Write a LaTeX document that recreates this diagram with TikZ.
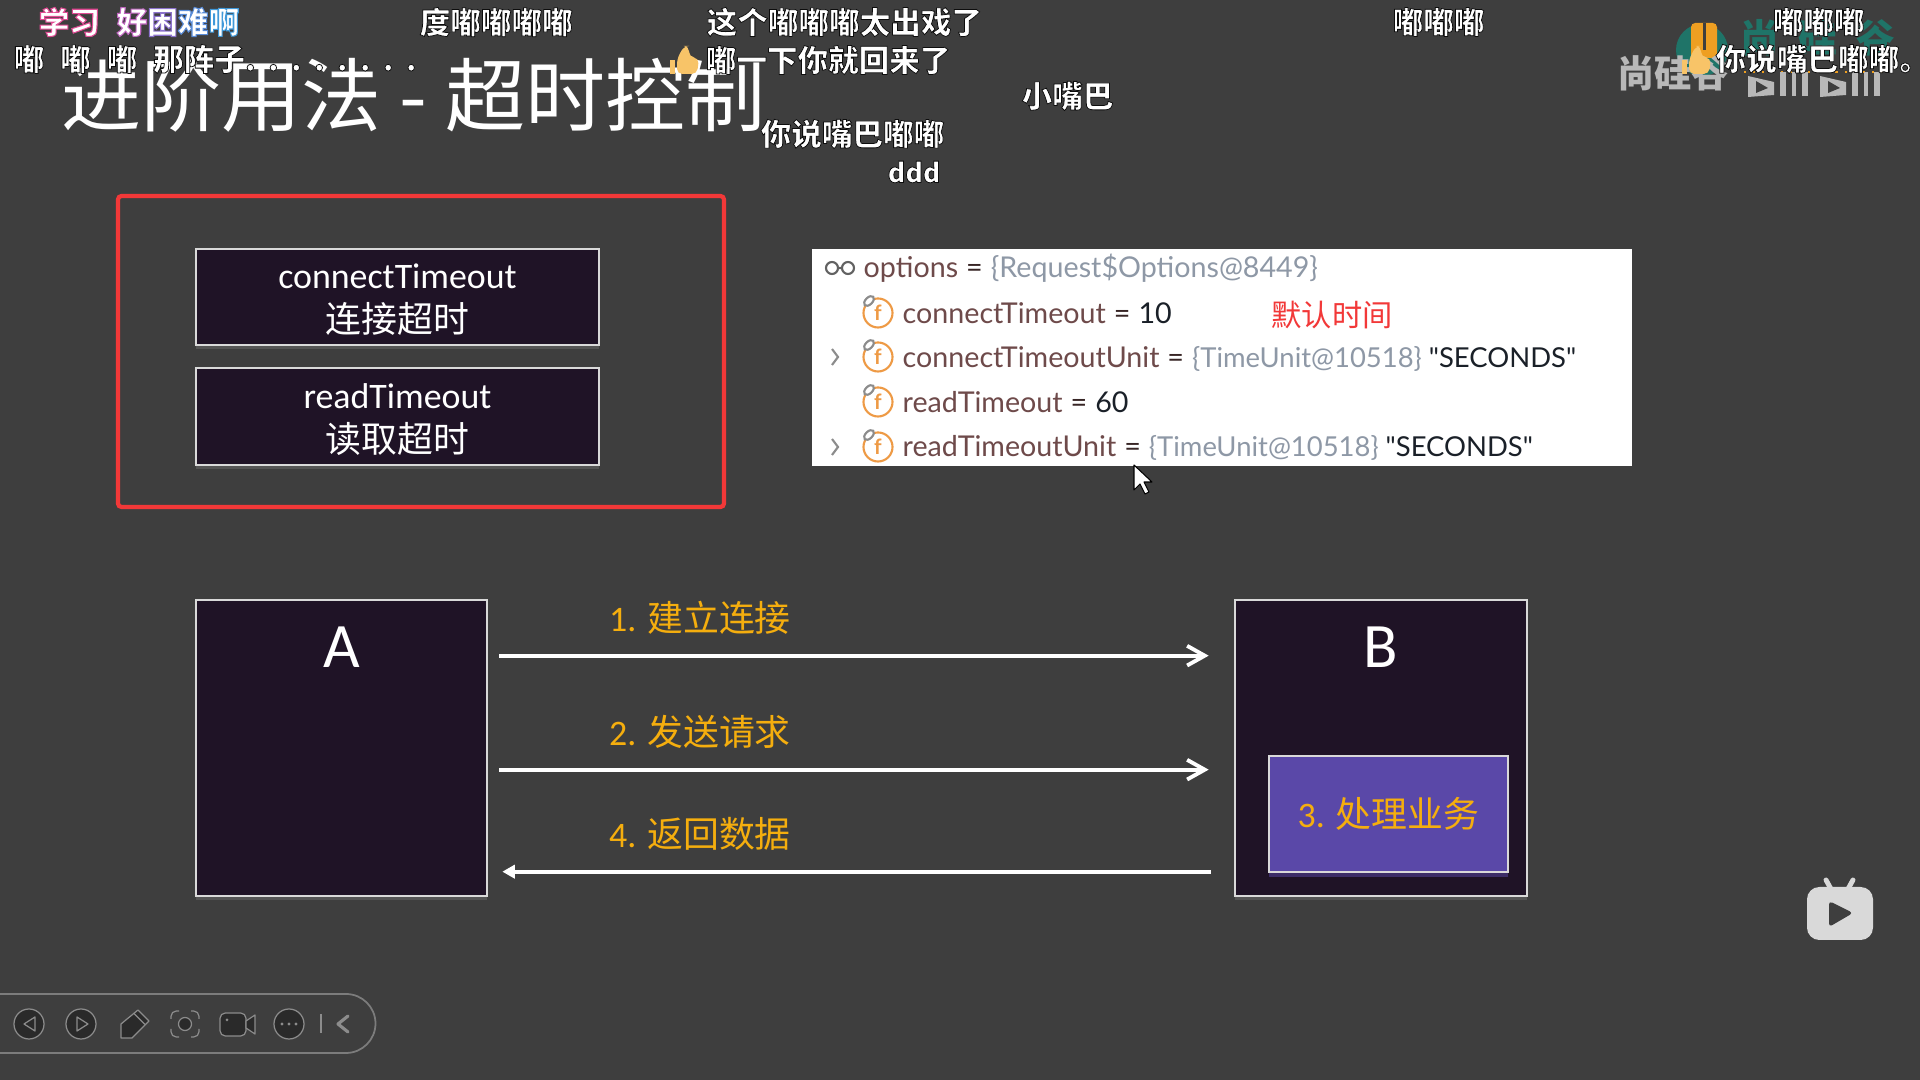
\documentclass[tikz,border=0pt]{standalone}
\usepackage{fontspec}
\usepackage{xcolor}
\usepackage{tikz}
\usetikzlibrary{arrows.meta,shapes.geometric,shadows,calc}
\setmainfont{Carlito}
\newfontfamily\cjk{Noto Sans CJK SC}
\newfontfamily\panelfont{Lato}
\definecolor{slidebg}{HTML}{3E3E3E}
\definecolor{boxdark}{HTML}{1F1326}
\definecolor{boxpurple}{HTML}{5A48A8}
\definecolor{stepgold}{HTML}{F5AE0E}
\definecolor{framered}{HTML}{F23838}
\definecolor{fieldbrown}{HTML}{6E4A4A}
\definecolor{valuegrey}{HTML}{8E98A6}
\definecolor{valueblack}{HTML}{1A2028}
\definecolor{ringorange}{HTML}{EE9A45}
\definecolor{toolgrey}{HTML}{8C8C8C}
\definecolor{tooldark}{HTML}{2A2A2A}
\definecolor{thumbgold}{HTML}{F8C468}
\definecolor{logogreen}{HTML}{1F7468}
\definecolor{logoorange}{HTML}{EE9F22}
\definecolor{logogrey}{HTML}{B8B8B8}
% text with a coloured outline: r g b of the outline, width, text
\newcommand{\outlined}[3]{\special{pdf:code 2 Tr #2 w #1 RG}#3\special{pdf:code 0 Tr}}
\newcommand{\chatline}[1]{\outlined{0.05 0.05 0.05}{0.22}{#1}}
\newcommand{\eqsign}{\hspace{0.28em}\textcolor{fieldbrown!50!black}{=}\hspace{0.28em}}
\newcommand{\unitvalue}[1]{{\fontsize{7.8}{9}\selectfont\textcolor{valuegrey}{\{TimeUnit@10518\}} \textcolor{valueblack}{#1}}}
\tikzset{
  slidebox/.style={draw=white!85!black, line width=0.7pt, fill=boxdark, inner sep=0pt,
    drop shadow={opacity=0.35, shadow xshift=0pt, shadow yshift=-1pt}},
  stepboxtext/.style={font=\fontsize{10.2}{12.6}\selectfont, text=white, align=center, inner sep=0pt, yshift=-0.8pt},
  steplabel/.style={font=\fontsize{10.2}{12}\selectfont, text=stepgold, inner sep=0pt},
  flowarrow/.style={draw=white, line width=1.1pt},
  danmu/.style={font=\cjk\bfseries\fontsize{8.7}{10}\selectfont, text=white, anchor=west, inner sep=0pt},
  paneltext/.style={font=\panelfont\fontsize{8.15}{9}\selectfont, text=fieldbrown, anchor=base west, inner sep=0pt},
  fieldicon/.style={circle, draw=ringorange, line width=0.6pt, minimum size=0.29cm, inner sep=0pt,
    font=\panelfont\bfseries\fontsize{6}{6}\selectfont, text=ringorange},
  toolcircle/.style={circle, draw=toolgrey, line width=0.35pt, fill=tooldark, minimum size=0.3cm, inner sep=0pt},
  toolline/.style={draw=toolgrey, line width=0.35pt, fill=tooldark, line join=round},
}
\begin{document}
\begin{tikzpicture}[x=0.01cm, y=-0.01cm, >=stealth]
    \useasboundingbox (0, 0) rectangle (1920, 1080);
    \fill[slidebg] (0, 0) rectangle (1920, 1080);

    % Logo top right
    \fill[logogreen] (1702, 50) circle (26);
    \fill[logoorange, rounded corners=1.2pt] (1691, 23) rectangle (1717, 58);
    \fill[slidebg] (1702.5, 23) rectangle (1705.5, 50);
    \node[font=\cjk\bfseries\fontsize{11}{12}\selectfont, text=logogreen, inner sep=0pt] (logoCn) at (1818, 38) {尚\hspace{0.5em}硅\hspace{0.5em}谷};
    \draw[logoorange, line width=0.6pt, dotted] (1744, 72) -- (1895, 72);
    \node[font=\cjk\bfseries\fontsize{10.6}{12}\selectfont, text=logogrey, inner sep=0pt] (logoName) at (1673, 73) {尚硅谷};
    \foreach \xa in {1748, 1820} {
        \fill[logogrey] (\xa, 76) -- (\xa+26, 82) -- (\xa+26, 95) -- (\xa, 97) -- cycle;
        \fill[slidebg] (\xa+8, 81) -- (\xa+20, 88) -- (\xa+8, 93) -- cycle;
        \fill[logogrey] (\xa+32, 72) rectangle (\xa+38, 96);
        \fill[logogrey] (\xa+44, 72) rectangle (\xa+48, 96);
        \fill[logogrey] (\xa+54, 72) rectangle (\xa+60, 96);
    }

    % Title
    \node[font=\cjk\fontsize{22.75}{24}\selectfont, text=white, inner sep=0pt, anchor=west] (titleText) at (61, 95) {进阶用法 - 超时控制};

    % Timeout settings
    \draw[framered, line width=1.2pt, rounded corners=1pt] (118, 196) rectangle (724, 507);
    \node[slidebox, minimum width=4.03cm, minimum height=0.96cm] (connectBox) at (397.5, 297) {};
    \node[stepboxtext] (connectText) at (connectBox) {connectTimeout\\{\cjk 连接超时}};
    \node[slidebox, minimum width=4.03cm, minimum height=0.97cm] (readBox) at (397.5, 416.5) {};
    \node[stepboxtext] (readText) at (readBox) {readTimeout\\{\cjk 读取超时}};

    % Debugger panel
    \fill[white] (812, 249) rectangle (1632, 466);
    \draw[toolgrey!70!black, line width=0.6pt] (832, 268) circle (6) (848, 268) circle (6) (838, 268) -- (842, 268);
    \node[paneltext] (optionsRow) at (863, 278) {options\eqsign\textcolor{valuegrey}{\{Request\$Options@8449\}}};
    \node[paneltext] (connectRow) at (902, 324) {connectTimeout\eqsign\textcolor{valueblack}{10}};
    \node[paneltext] (connectUnitRow) at (902, 368) {connectTimeoutUnit\eqsign\unitvalue{"SECONDS"}};
    \node[paneltext] (readRow) at (902, 413) {readTimeout\eqsign\textcolor{valueblack}{60}};
    \node[paneltext] (readUnitRow) at (902, 457) {readTimeoutUnit\eqsign\unitvalue{"SECONDS"}};
    \foreach \y [count=\i] in {313, 357, 402, 447} {
        \node[fieldicon] (fieldIcon\i) at (878, \y) {f};
        \draw[toolgrey, line width=0.6pt, fill=white, rotate around={45:(869, \y-12)}] (869, \y-12) ellipse (6 and 3.5);
    }
    \foreach \y in {357, 447} {
        \draw[toolgrey, line width=0.6pt] (832, \y-8) -- (838, \y) -- (832, \y+8);
    }
    \node[font=\cjk\fontsize{8.6}{10}\selectfont, text=framered, inner sep=0pt] (defaultNote) at (1332, 315) {默认时间};

    % Mouse pointer
    \draw[black, line width=0.3pt, fill=white, line join=round] (1134, 465) -- (1134, 490) -- (1140, 484) -- (1145, 494) -- (1149, 492) -- (1144, 482) -- (1152, 482) -- cycle;

    % Client and server
    \node[slidebox, minimum width=2.91cm, minimum height=2.96cm] (boxA) at (341.5, 748) {};
    \node[font=\fontsize{18}{20}\selectfont, text=white, inner sep=0pt] (nameA) at (341.5, 647) {A};
    \node[slidebox, minimum width=2.92cm, minimum height=2.96cm] (boxB) at (1381, 748) {};
    \node[font=\fontsize{18}{20}\selectfont, text=white, inner sep=0pt] (nameB) at (1381, 647) {B};
    \node[draw=white!85!black, line width=0.7pt, fill=boxpurple, minimum width=2.39cm, minimum height=1.16cm, inner sep=0pt,
        drop shadow={color=boxpurple, opacity=0.5, shadow xshift=0pt, shadow yshift=-1.5pt}] (handleBox) at (1388.5, 814) {};
    \node[steplabel] (handleText) at (handleBox) {3. {\cjk 处理业务}};

    % Requests and reply
    \draw[flowarrow, -{Straight Barb[length=5pt, width=5.6pt, line width=1.1pt]}] ([shift={(11, 57)}]boxA.north east) -- ([shift={(-25, 57)}]boxB.north west);
    \node[steplabel] (stepConnect) at (700, 618) {1. {\cjk 建立连接}};
    \draw[flowarrow, -{Straight Barb[length=5pt, width=5.6pt, line width=1.1pt]}] ([shift={(11, 171)}]boxA.north east) -- ([shift={(-25, 171)}]boxB.north west);
    \node[steplabel] (stepSend) at (700, 732) {2. {\cjk 发送请求}};
    \draw[flowarrow, -{Stealth[length=3.6pt, width=3.8pt, inset=0pt]}] ([shift={(-23, 273)}]boxB.north west) -- ([shift={(14, 273)}]boxA.north east);
    \node[steplabel] (stepReturn) at (700, 834) {4. {\cjk 返回数据}};

    % Toolbar
    \draw[toolgrey!80!slidebg, line width=0.5pt] (0, 994) -- (346, 994) arc[start angle=-90, end angle=90, radius=29.5] -- (0, 1053);
    \node[toolcircle] (toolPrev) at (29, 1024) {};
    \draw[toolgrey, line width=0.35pt, line join=round] (35, 1017) -- (24, 1024) -- (35, 1031) -- cycle;
    \node[toolcircle] (toolNext) at (81, 1024) {};
    \draw[toolgrey, line width=0.35pt, line join=round] (77, 1017) -- (88, 1024) -- (77, 1031) -- cycle;
    \draw[toolline] (121, 1038) -- (121, 1024) -- (138, 1010) -- (149, 1021) -- (132, 1038) -- cycle;
    \draw[toolgrey, line width=0.35pt] (134, 1013.5) -- (145, 1024.5);
    \draw[toolline, fill=none, rounded corners=1.5pt] (171, 1019) -- (171, 1011) -- (179, 1011) (191, 1011) -- (199, 1011) -- (199, 1019) (199, 1029) -- (199, 1037) -- (191, 1037) (179, 1037) -- (171, 1037) -- (171, 1029);
    \fill[tooldark, draw=toolgrey, line width=0.35pt] (185, 1024) circle (6.5);
    \draw[toolline, rounded corners=1.5pt] (220, 1013) rectangle (246, 1036);
    \draw[toolline] (246, 1021) -- (255, 1015) -- (255, 1034) -- (246, 1028) -- cycle;
    \fill[toolgrey] (227, 1020) circle (1.5);
    \node[toolcircle] (toolMore) at (289, 1024) {};
    \foreach \xa in {282, 289, 296} { \fill[toolgrey] (\xa, 1024) circle (1.6); }
    \draw[toolgrey, line width=0.35pt] (321, 1014) -- (321, 1033);
    \draw[toolgrey, line width=0.9pt, line join=round, line cap=round] (348, 1016) -- (338, 1024) -- (348, 1032);

    % Player icon
    \fill[white!85!black, rounded corners=3.5pt] (1807, 887) rectangle (1873, 940);
    \draw[white!85!black, line width=1.4pt, line cap=round] (1831, 889) -- (1826, 880) (1848, 889) -- (1853, 880);
    \fill[slidebg, rounded corners=1pt] (1829, 901) -- (1853, 913) -- (1829, 927) -- cycle;

    % Chat lines over the slide
    \node[danmu] (chatStudy) at (38, 22) {\outlined{0.88 0.3 0.58}{0.3}{学习}};
    \node[danmu] (chatTired) at (116, 22) {\outlined{0.75 0.4 0.75}{0.3}{好}\outlined{0.55 0.45 0.8}{0.3}{困}\outlined{0.35 0.55 0.85}{0.3}{难}\outlined{0.25 0.6 0.85}{0.3}{啊}};
    \node[danmu] (chatWhile) at (13, 59) {\chatline{嘟\hspace{0.52em}嘟\hspace{0.52em}嘟\hspace{0.52em}那阵子.\hspace{0.4em}.\hspace{0.4em}.\hspace{0.4em}.\hspace{0.4em}.\hspace{0.4em}.\hspace{0.4em}.\hspace{0.4em}.}};
    \node[danmu] (chatDu) at (419, 22) {\chatline{度嘟嘟嘟嘟}};
    \node[danmu] (chatOver) at (706, 22) {\chatline{这个嘟嘟嘟太出戏了}};
    \node[danmu] (chatBack) at (705, 60) {\chatline{嘟一下你就回来了}};
    \node[danmu] (chatMouthA) at (760, 134) {\chatline{你说嘴巴嘟嘟}};
    \node[danmu, font=\cjk\bfseries\fontsize{7.6}{10}\selectfont] (chatDdd) at (887, 172) {\chatline{ddd}};
    \node[danmu] (chatSmall) at (1021, 96) {\chatline{小嘴巴}};
    \node[danmu] (chatDuA) at (1392, 22) {\chatline{嘟嘟嘟}};
    \node[danmu] (chatDuB) at (1772, 22) {\chatline{嘟嘟嘟}};
    \node[danmu] (chatMouthB) at (1715, 59) {\chatline{你说嘴巴嘟嘟。}\hspace{-0.45em}};

    % Thumbs beside two chat lines
    \foreach \xa in {670, 1682} {
        \fill[thumbgold] (\xa, 60) rectangle (\xa+5, 74);
        \fill[thumbgold, rounded corners=1.5pt] (\xa+7, 74) -- (\xa+7, 59) -- (\xa+14, 46) -- (\xa+19, 46) -- (\xa+19, 57) -- (\xa+29, 58) -- (\xa+27, 74) -- cycle;
    }
\end{tikzpicture}
\end{document}
